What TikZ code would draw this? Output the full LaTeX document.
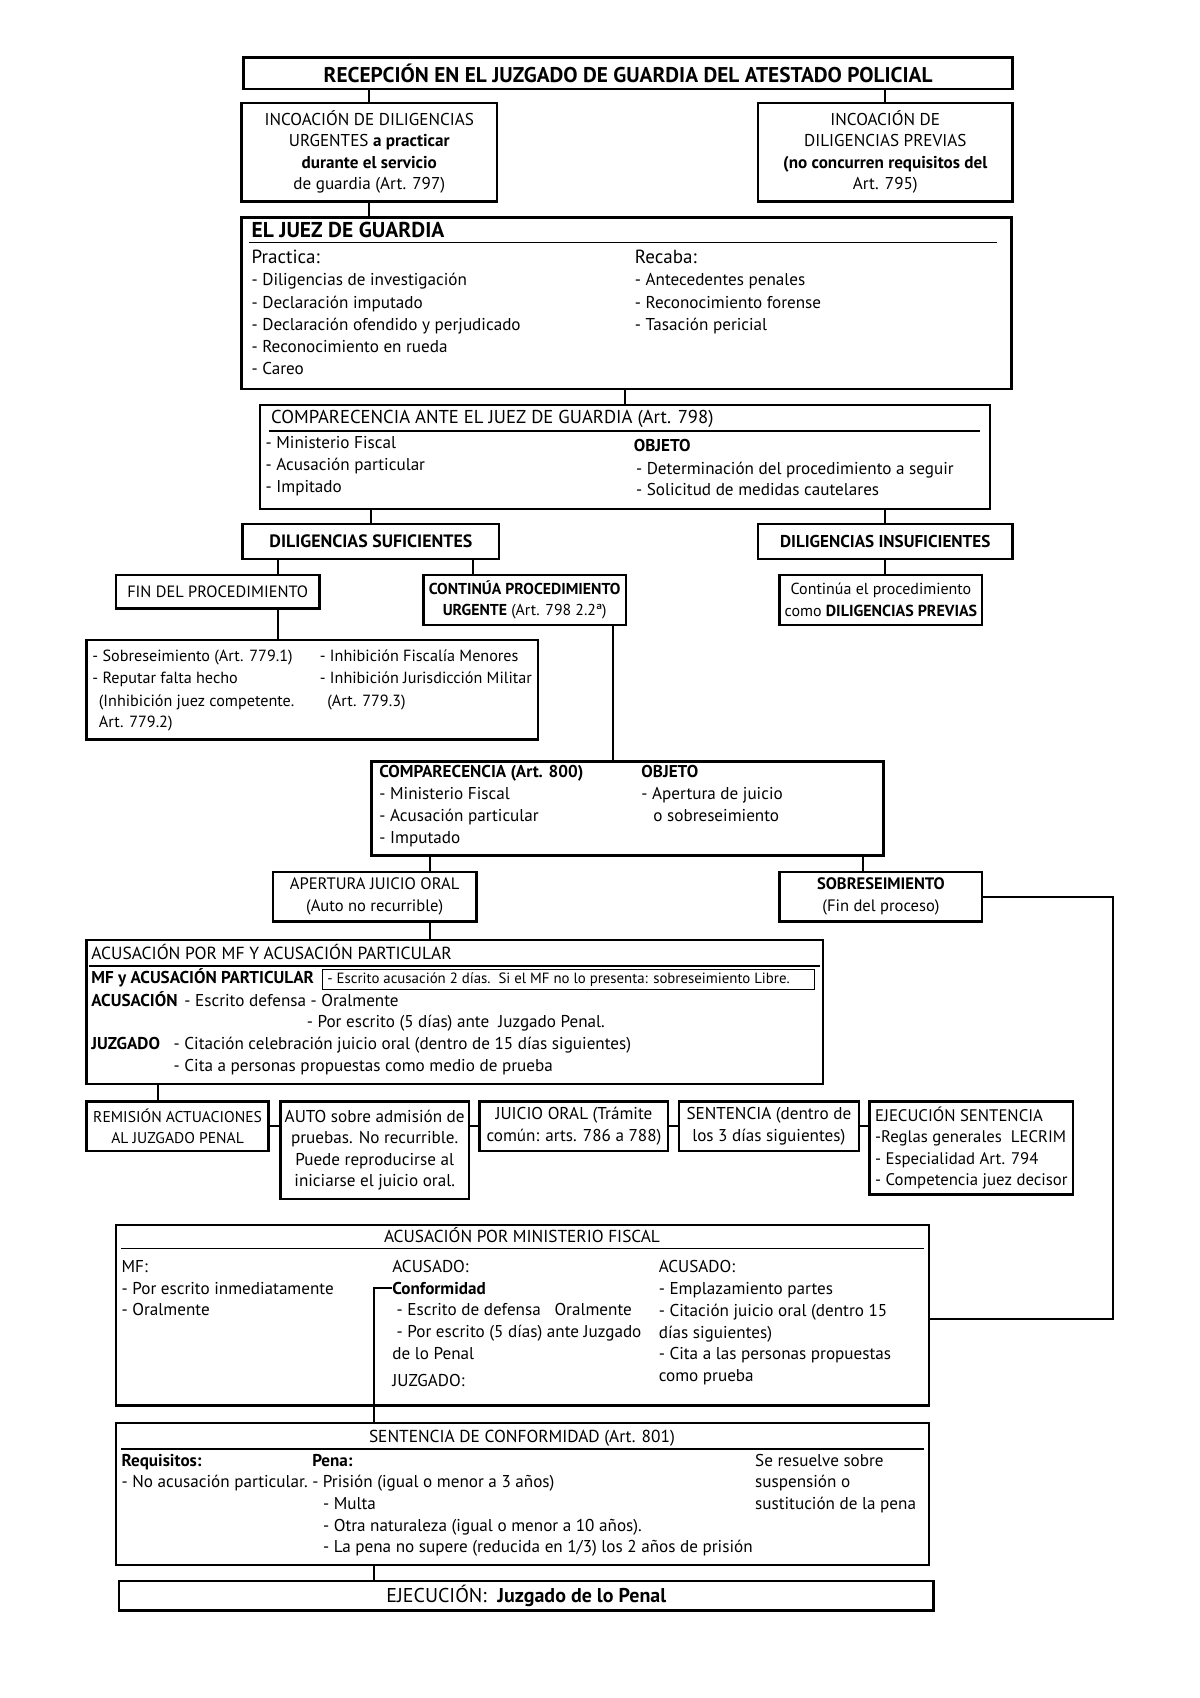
\documentclass[tikz,border=0pt]{standalone}
\usepackage{fontspec}
\setmainfont{PT Sans}
\usetikzlibrary{fit,calc}
\newcommand\fn{\fontsize{9}{11.3}\selectfont}
\newcommand\fsm{\fontsize{7.8}{9}\selectfont}
\newcommand\fh{\fontsize{10}{12}\selectfont}
\newcommand\tlines[5]{\foreach \lin [count=\i from 0] in {#5} {\node[tl] (#1\i) at (#2,{#3+\i*#4}) {\lin};}}
\begin{document}
\begin{tikzpicture}[x=0.02cm,y=-0.02cm,
  box/.style={draw,line width=1.3pt,inner sep=0pt},
  ct/.style={inner sep=0pt,align=center,font=\fn},
  tl/.style={inner sep=0pt,anchor=base west,font=\fn},
  hd/.style={inner sep=0pt,anchor=base west,font=\fh},
  conn/.style={line width=1.1pt},
  rl/.style={line width=0.9pt}]
\useasboundingbox (0,0) rectangle (1108,1568);
% helper x positions
\coordinate (x146) at (146,0);
\coordinate (x257) at (257,0);
\coordinate (x345) at (345,0);
\coordinate (x397) at (397,0);
\coordinate (x437) at (437,0);
\coordinate (x566) at (566,0);
\coordinate (x797) at (797,0);
\coordinate (rc) at (1028,1218);

% top
\node[box,fit={(225,53)(935,82)}] (top) {};
\node[ct,font=\fontsize{11.2}{13}\selectfont\bfseries] (topt) at (top.center) {RECEPCIÓN EN EL JUZGADO DE GUARDIA DEL ATESTADO POLICIAL};
\node[box,fit={(223,95)(459,186)}] (incl) {};
\node[ct] (inclt) at (incl.center) {INCOACIÓN DE DILIGENCIAS\\URGENTES \textbf{a practicar}\\\textbf{durante el servicio}\\de guardia (Art. 797)};
\node[box,fit={(700,95)(935,186)}] (incr) {};
\node[ct] (incrt) at (incr.center) {INCOACIÓN DE\\DILIGENCIAS PREVIAS\\\textbf{(no concurren requisitos del}\\Art. 795)};

% juez
\node[box,fit={(223,201)(934,359)}] (juez) {};
\node[hd,font=\fontsize{11.3}{13}\selectfont\bfseries] (jt) at (232,219) {EL JUEZ DE GUARDIA};
\draw[rl] (230,224) coordinate (jr1) -- (921,224) coordinate (jr2);
\node[hd] (jp) at (232,243) {Practica:};
\tlines{jl}{232}{264}{20.5}{- Diligencias de investigación,- Declaración imputado,- Declaración ofendido y perjudicado,- Reconocimiento en rueda,- Careo}
\node[hd] (jr) at (586,243) {Recaba:};
\tlines{jrl}{586}{264}{20.5}{- Antecedentes penales,- Reconocimiento forense,- Tasación pericial}

% comparecencia 798
\node[box,fit={(240,374)(914,470)}] (comp) {};
\node[hd,font=\fontsize{9.8}{11}\selectfont] (ctt) at (250,391) {COMPARECENCIA ANTE EL JUEZ DE GUARDIA (Art. 798)};
\draw[rl] (248,398) coordinate (cr1) -- (905,398) coordinate (cr2);
\tlines{cl}{245}{414}{20.5}{- Ministerio Fiscal,- Acusación particular,- Impitado}
\node[tl,font=\fn\bfseries] (co) at (585,417) {OBJETO};
\tlines{cr}{587}{438}{20}{- Determinación del procedimiento a seguir,- Solicitud de medidas cautelares}

% diligencias
\node[box,fit={(224,484)(461,516)}] (suf) {};
\node[ct,font=\fontsize{9.4}{11}\selectfont\bfseries] (suft) at (suf.center) {DILIGENCIAS SUFICIENTES};
\node[box,fit={(700,484)(935,516)}] (insuf) {};
\node[ct,font=\fontsize{9}{11}\selectfont\bfseries] (insuft) at (insuf.center) {DILIGENCIAS INSUFICIENTES};
\node[box,fit={(107,531)(295,562)}] (fin) {};
\node[ct,font=\fontsize{8.6}{11}\selectfont] (fint) at (fin.center) {FIN DEL PROCEDIMIENTO};
\node[box,fit={(391,531)(578,577)}] (cont) {};
\node[ct,font=\fontsize{8.3}{11.3}\selectfont] (contt) at (cont.center) {\textbf{CONTINÚA PROCEDIMIENTO}\\\textbf{URGENTE} (Art. 798 2.2ª)};
\node[box,fit={(720,531)(907,577)}] (cprev) {};
\node[ct,font=\fontsize{8.4}{11.3}\selectfont] (cprevt) at (cprev.center) {Continúa el procedimiento\\como \textbf{DILIGENCIAS PREVIAS}};

% list box
\node[box,fit={(80,591)(497,683)}] (list) {};
\begin{scope}[tl/.append style={font=\fontsize{8.5}{11}\selectfont}]
\node[tl] (ll0) at (85,611) {- Sobreseimiento (Art. 779.1)};
\node[tl] (ll1) at (85,631) {- Reputar falta hecho};
\node[tl] (ll2) at (91,652) {(Inhibición juez competente.};
\node[tl] (ll3) at (91,672) {Art. 779.2)};
\node[tl] (lr0) at (295,611) {- Inhibición Fiscalía Menores};
\node[tl] (lr1) at (295,631) {- Inhibición Jurisdicción Militar};
\node[tl] (lr2) at (302,652) {(Art. 779.3)};
\end{scope}

% comparecencia 800
\node[box,fit={(343,703)(816,790)}] (c800) {};
\node[tl,font=\fn\bfseries] (c8t) at (350,718) {COMPARECENCIA (Art. 800)};
\tlines{c8l}{350}{738}{20.5}{- Ministerio Fiscal,- Acusación particular,- Imputado}
\node[tl,font=\fn\bfseries] (c8o) at (592,718) {OBJETO};
\node[tl] (c8r0) at (592,738) {- Apertura de juicio};
\node[tl] (c8r1) at (603,759) {o sobreseimiento};

\node[box,fit={(252,805)(440,851)}] (apert) {};
\node[ct,font=\fontsize{8.7}{11.3}\selectfont] (apertt) at (apert.center) {APERTURA JUICIO ORAL\\(Auto no recurrible)};
\node[box,fit={(720,805)(907,851)}] (sobr) {};
\node[ct,font=\fontsize{8.7}{11.3}\selectfont] (sobrt) at (sobr.center) {\textbf{SOBRESEIMIENTO}\\(Fin del proceso)};

% acusacion MF y AP
\node[box,fit={(80,868)(760,1001)}] (acus1) {};
\node[hd,font=\fontsize{9.2}{11}\selectfont] (a1t) at (84,886) {ACUSACIÓN POR MF Y ACUSACIÓN PARTICULAR};
\draw[rl] (82,892) coordinate (ar1) -- (757,892) coordinate (ar2);
\node[tl,font=\fn\bfseries] (a1a) at (84,908) {MF y ACUSACIÓN PARTICULAR};
\node[draw,line width=0.7pt,inner sep=0pt,fit={(298,895)(752,914)}] (a1box) {};
\node[tl,font=\fsm] (a1bt) at (302,908) {- Escrito acusación 2 días.\ \ Si el MF no lo presenta: sobreseimiento Libre.};
\node[tl,font=\fn\bfseries] (a1b) at (84,929) {ACUSACIÓN};
\node[tl] (a1b2) at (170,929) {- Escrito defensa - Oralmente};
\node[tl] (a1c) at (283,949) {- Por escrito (5 días) ante\ \ Juzgado Penal.};
\node[tl,font=\fn\bfseries] (a1d) at (84,969) {JUZGADO};
\node[tl] (a1d2) at (160,969) {- Citación celebración juicio oral (dentro de 15 días siguientes)};
\node[tl] (a1e) at (160,989) {- Cita a personas propuestas como medio de prueba};

% row
\node[box,fit={(80,1017)(248,1063)}] (rem) {};
\node[ct,font=\fontsize{8.2}{11.3}\selectfont] (remt) at (rem.center) {REMISIÓN ACTUACIONES\\AL JUZGADO PENAL};
\node[box,fit={(259,1017)(433,1107)}] (auto) {};
\node[ct] (autot) at (auto.center) {AUTO sobre admisión de\\pruebas. No recurrible.\\Puede reproducirse al\\iniciarse el juicio oral.};
\node[box,fit={(443,1017)(617,1063)}] (jo) {};
\node[ct] (jot) at (jo.center) {JUICIO ORAL (Trámite\\común: arts. 786 a 788)};
\node[box,fit={(627,1017)(793,1063)}] (sent) {};
\node[ct] (sentt) at (sent.center) {SENTENCIA (dentro de\\los 3 días siguientes)};
\node[box,fit={(803,1017)(991,1103)}] (ejs) {};
\node[ct,align=left,font=\fontsize{8.8}{11.3}\selectfont] (ejst) at (ejs.center) {EJECUCIÓN SENTENCIA\\-Reglas generales\ \ LECRIM\\- Especialidad Art. 794\\- Competencia juez decisor};

% acusacion por MF
\node[box,fit={(107,1131)(858,1298)}] (amf) {};
\node[inner sep=0pt,anchor=base,font=\fontsize{9.1}{11}\selectfont] (amft) at (482,1147) {ACUSACIÓN POR MINISTERIO FISCAL};
\draw[rl] (112,1153) coordinate (mr1) -- (853,1153) coordinate (mr2);
\tlines{m1}{112}{1175}{20}{MF:,- Por escrito inmediatamente,- Oralmente}
\node[tl] (m2a) at (362,1175) {ACUSADO:};
\node[tl,font=\fn\bfseries] (conf) at (362,1195) {Conformidad};
\tlines{m2b}{366}{1215}{20}{- Escrito de defensa\ \ \ Oralmente,- Por escrito (5 días) ante Juzgado}
\node[tl] (m2c) at (362,1255) {de lo Penal};
\node[tl] (m2d) at (362,1280) {JUZGADO:};
\tlines{m3}{608}{1175}{20.2}{ACUSADO:,- Emplazamiento partes,- Citación juicio oral (dentro 15,días siguientes),- Cita a las personas propuestas,como prueba}

% sentencia de conformidad
\node[box,fit={(107,1314)(858,1445)}] (sc) {};
\node[inner sep=0pt,anchor=base,font=\fontsize{9.1}{11}\selectfont] (sct) at (482,1332) {SENTENCIA DE CONFORMIDAD (Art. 801)};
\draw[rl] (112,1338) coordinate (sr1) -- (853,1338) coordinate (sr2);
\node[tl,font=\fn\bfseries] (s1a) at (112,1354) {Requisitos:};
\node[tl] (s1b) at (112,1374) {- No acusación particular.};
\node[tl,font=\fn\bfseries] (s2a) at (288,1354) {Pena:};
\node[tl] (s2b) at (288,1374) {- Prisión (igual o menor a 3 años)};
\tlines{s2c}{298}{1394}{20}{- Multa,- Otra naturaleza (igual o menor a 10 años).,- La pena no supere (reducida en 1/3) los 2 años de prisión}
\tlines{s3}{697}{1354}{20}{Se resuelve sobre,suspensión o,sustitución de la pena}

\node[box,fit={(110,1460)(862,1487)}] (ejec) {};
\node[ct,font=\fontsize{10.5}{12}\selectfont] (eject) at (ejec.center) {EJECUCIÓN:\ \ \textbf{Juzgado de lo Penal}};

% connectors
\draw[conn] (incl.north) -- (incl.north |- top.south);
\draw[conn] (incr.north) -- (incr.north |- top.south);
\draw[conn] (incl.south) -- (incl.south |- juez.north);
\draw[conn] (comp.north) -- (comp.north |- juez.south);
\draw[conn] (suf.north) -- (suf.north |- comp.south);
\draw[conn] (insuf.north) -- (insuf.north |- comp.south);
\draw[conn] (x257 |- suf.south) -- (x257 |- fin.north);
\draw[conn] (x437 |- suf.south) -- (x437 |- cont.north);
\draw[conn] (insuf.south) -- (insuf.south |- cprev.north);
\draw[conn] (x257 |- fin.south) -- (x257 |- list.north);
\draw[conn] (x566 |- cont.south) -- (x566 |- c800.north);
\draw[conn] (x397 |- c800.south) -- (x397 |- apert.north);
\draw[conn] (x797 |- c800.south) -- (x797 |- sobr.north);
\draw[conn] (x397 |- apert.south) -- (x397 |- acus1.north);
\draw[conn] (x146 |- acus1.south) -- (x146 |- rem.north);
\draw[conn] (rem.east) -- (rem.east -| auto.west);
\draw[conn] (jo.west) -- (jo.west -| auto.east);
\draw[conn] (jo.east) -- (sent.west);
\draw[conn] (sent.east) -- (sent.east -| ejs.west);
\draw[conn] (sobr.east) -| (rc) -- (rc -| amf.east);
\draw[conn] (conf.west) -| (x345 |- sc.north);
\draw[conn] (x345 |- sc.south) -- (x345 |- ejec.north);
\end{tikzpicture}
\end{document}
